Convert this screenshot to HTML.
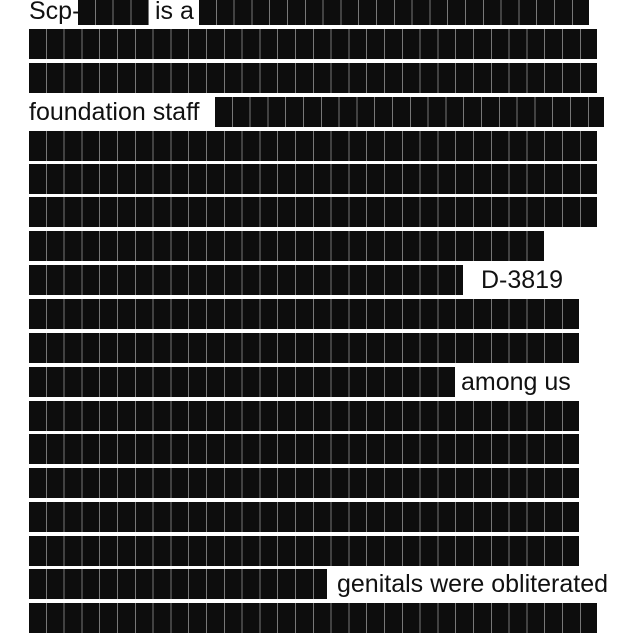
<!DOCTYPE html>
<html><head><style>
body{margin:0;width:640px;height:613px;background:#fff;overflow:hidden;position:relative;font-family:"Liberation Sans",sans-serif;}
.b{position:absolute;height:30px;background-color:#0d0d0d;background-image:repeating-linear-gradient(90deg,#0d0d0d 0,#0d0d0d 16.8px,#777 16.8px,#777 17.8px);}
.t{position:absolute;font-size:25px;color:#111;line-height:30px;white-space:nowrap;}
</style></head><body>
<div class="t" style="left:29px;top:-4px">Scp-</div>
<div class="b" style="left:78px;top:0;width:71px;height:25px"></div>
<div class="t" style="left:155px;top:-4px">is a</div>
<div class="b" style="left:199px;top:0;width:390px;height:25px"></div>
<div class="b" style="left:29px;top:29px;width:568px"></div>
<div class="b" style="left:29px;top:63px;width:568px"></div>
<div class="t" style="left:29px;top:97px">foundation staff</div>
<div class="b" style="left:215px;top:97px;width:389px"></div>
<div class="b" style="left:29px;top:131px;width:568px"></div>
<div class="b" style="left:29px;top:164px;width:568px"></div>
<div class="b" style="left:29px;top:197px;width:568px"></div>
<div class="b" style="left:29px;top:231px;width:515px"></div>
<div class="b" style="left:29px;top:265px;width:434px"></div>
<div class="t" style="left:481px;top:265px">D-3819</div>
<div class="b" style="left:29px;top:299px;width:550px"></div>
<div class="b" style="left:29px;top:333px;width:550px"></div>
<div class="b" style="left:29px;top:367px;width:426px"></div>
<div class="t" style="left:461px;top:367px">among us</div>
<div class="b" style="left:29px;top:401px;width:550px"></div>
<div class="b" style="left:29px;top:434px;width:550px"></div>
<div class="b" style="left:29px;top:468px;width:550px"></div>
<div class="b" style="left:29px;top:502px;width:550px"></div>
<div class="b" style="left:29px;top:536px;width:550px"></div>
<div class="b" style="left:29px;top:569px;width:298px"></div>
<div class="t" style="left:337px;top:569px">genitals were obliterated</div>
<div class="b" style="left:29px;top:603px;width:568px"></div>
</body></html>
